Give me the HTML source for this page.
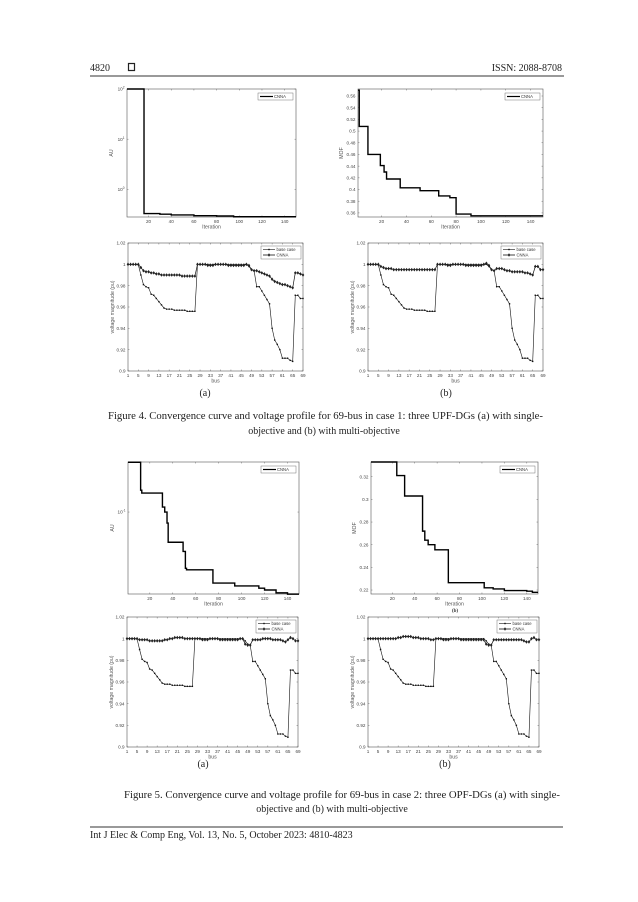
<!DOCTYPE html>
<html><head><meta charset="utf-8">
<style>
html,body{margin:0;padding:0;background:#fff;}
body{width:638px;height:902px;position:relative;overflow:hidden;font-family:"Liberation Serif",serif;}
svg{position:absolute;left:0;top:0;}
</style></head>
<body>
<svg id="page" width="638" height="902" viewBox="0 0 638 902" xmlns="http://www.w3.org/2000/svg">
  <g font-family="Liberation Serif, serif" font-size="10" fill="#222">
    <text x="90" y="71">4820</text>
    <rect x="128.5" y="63.5" width="6" height="7" fill="none" stroke="#222" stroke-width="1.2"/>
    <text x="562" y="71" text-anchor="end">ISSN: 2088-8708</text>
    <line x1="90" y1="76" x2="564" y2="76" stroke="#333" stroke-width="1"/>
  </g>
  <g id="charts"></g>
  <g font-family="Liberation Serif, serif" font-size="10" fill="#222">
    <text x="205" y="396" text-anchor="middle">(a)</text>
    <text x="446" y="396" text-anchor="middle">(b)</text>
    <text x="108" y="419" textLength="435" lengthAdjust="spacingAndGlyphs">Figure 4. Convergence curve and voltage profile for 69-bus in case 1: three UPF-DGs (a) with single-</text>
    <text x="324" y="434" text-anchor="middle">objective and (b) with multi-objective</text>
  </g>
  <g font-family="Liberation Serif, serif" font-size="10" fill="#222">
    <text x="203" y="767" text-anchor="middle">(a)</text>
    <text x="445" y="767" text-anchor="middle">(b)</text>
    <text x="124" y="798" textLength="436" lengthAdjust="spacingAndGlyphs">Figure 5. Convergence curve and voltage profile for 69-bus in case 2: three OPF-DGs (a) with single-</text>
    <text x="332" y="812" text-anchor="middle">objective and (b) with multi-objective</text>
  </g>
  <g font-family="Liberation Serif, serif" font-size="10" fill="#222">
    <line x1="90" y1="827" x2="563" y2="827" stroke="#333" stroke-width="1"/>
    <text x="90" y="838">Int J Elec &amp; Comp Eng, Vol. 13, No. 5, October 2023: 4810-4823</text>
  </g>
</svg>
<script>
// ---- convergence data ----
var f4aIter = [1, 16, 30, 40, 60, 80, 95, 150];
var f4aVal  = [100, 0.33, 0.32, 0.31, 0.30, 0.295, 0.285, 0.285];
var f4bIter = [1, 2, 9, 19, 22, 24, 35, 51, 66, 75, 80, 92, 150];
var f4bVal  = [0.57, 0.508, 0.46, 0.441, 0.43, 0.418, 0.403, 0.398, 0.389, 0.386, 0.358, 0.355, 0.355];
var f5aIter = [1, 12, 13, 31, 33, 35, 36, 49, 51, 52, 75, 94, 115, 120, 130, 140, 150];
var f5aVal  = [0.26, 0.152, 0.144, 0.110, 0.100, 0.081, 0.056, 0.047, 0.034, 0.033, 0.0256, 0.0242, 0.0232, 0.0224, 0.0212, 0.0207, 0.0207];
var f5bIter = [1, 24, 31, 47, 49, 52, 58, 70, 102, 110, 120, 140, 145, 150];
var f5bVal  = [0.333, 0.321, 0.303, 0.272, 0.264, 0.260, 0.2555, 0.2265, 0.222, 0.221, 0.2195, 0.219, 0.218, 0.218];
var convXTicks = [20, 40, 60, 80, 100, 120, 140];
var f4bYTicks = [0.36, 0.38, 0.4, 0.42, 0.44, 0.46, 0.48, 0.5, 0.52, 0.54, 0.56];
var f5bYTicks = [0.22, 0.24, 0.26, 0.28, 0.3, 0.32];
// ---- voltage data ----
var busTicks = [1,5,9,13,17,21,25,29,33,37,41,45,49,53,57,61,65,69];
var voltTicks = [0.9, 0.92, 0.94, 0.96, 0.98, 1, 1.02];
var baseCase = [1.0,1.0,1.0,1.0,0.9997,0.99,0.981,0.979,0.978,0.972,0.971,0.968,0.965,0.962,0.959,0.958,0.958,0.958,0.957,0.957,0.957,0.957,0.957,0.956,0.956,0.956,0.956,
 1.0,1.0,1.0,1.0,1.0,0.9999,0.9999,0.9999,1.0,1.0,0.9999,0.9999,0.9999,0.9999,0.9999,0.9999,0.9999,0.9999,0.9999,1.0,0.998,0.995,0.994,
 0.979,0.979,0.975,0.971,0.967,0.963,0.940,0.929,0.925,0.920,0.912,0.912,0.912,0.910,0.909,0.971,0.971,0.968,0.968];
var cnna4a = [1.0,1.0,1.0,1.0,1.0,0.997,0.994,0.993,0.993,0.992,0.992,0.991,0.991,0.990,0.990,0.990,0.990,0.990,0.990,0.990,0.990,0.989,0.989,0.989,0.989,0.989,0.989,
 1.0,1.0,1.0,1.0,0.999,0.999,0.999,1.0,1.0,1.0,1.0,1.0,0.999,0.999,0.999,0.999,0.999,0.999,0.999,1.0,0.999,0.995,0.994,
 0.994,0.993,0.992,0.991,0.990,0.989,0.986,0.984,0.983,0.982,0.981,0.981,0.980,0.979,0.978,0.992,0.992,0.991,0.990];
var cnna4b = [1.0,1.0,1.0,1.0,1.0,0.998,0.997,0.996,0.996,0.996,0.995,0.995,0.995,0.995,0.995,0.995,0.995,0.995,0.995,0.995,0.995,0.995,0.995,0.995,0.995,0.995,0.995,
 1.0,1.0,1.0,1.0,0.999,0.999,1.0,1.0,1.0,1.0,1.0,0.999,0.999,0.999,0.999,0.999,0.999,0.999,1.0,1.001,0.999,0.995,0.994,
 0.996,0.996,0.996,0.995,0.994,0.994,0.993,0.993,0.993,0.993,0.993,0.992,0.992,0.991,0.990,0.998,0.998,0.995,0.995];
var cnna5a = [1.0,1.0,1.0,1.0,1.0,0.999,0.999,0.999,0.999,0.998,0.998,0.998,0.998,0.998,0.998,0.999,0.999,1.0,1.0,1.001,1.001,1.001,1.001,1.0,1.0,1.0,1.0,
 1.0,1.0,1.0,0.999,0.999,0.999,1.0,1.0,1.0,1.0,0.999,0.999,0.999,0.999,0.999,0.999,0.999,0.999,1.0,1.0,0.995,0.994,0.994,
 0.999,0.999,0.999,0.999,1.0,1.0,1.0,1.0,0.999,0.999,0.999,0.999,0.998,0.997,0.999,1.001,1.0,0.998,0.998];
var cnna5b = [1.0,1.0,1.0,1.0,1.0,1.0,1.0,1.0,1.0,1.0,1.0,1.0,1.001,1.001,1.002,1.002,1.002,1.002,1.001,1.001,1.001,1.0,1.0,1.0,1.0,0.999,0.999,
 1.0,1.0,1.0,0.999,0.999,0.999,1.0,1.0,1.0,1.0,0.999,0.999,0.999,0.999,0.999,0.999,0.999,0.999,0.999,0.999,0.995,0.994,0.994,
 0.999,0.999,0.999,0.999,0.999,0.999,0.999,0.999,0.999,0.999,0.999,0.999,0.998,0.997,0.997,1.0,1.001,0.999,0.999];

var NS = "http://www.w3.org/2000/svg";
var root = document.getElementById('charts');
function mk(tag, attrs, parent){
  var e = document.createElementNS(NS, tag);
  for (var k in attrs) e.setAttribute(k, attrs[k]);
  parent.appendChild(e);
  return e;
}
function makeScale(d0, d1, r0, r1, log){
  if (log){ var a = Math.log10(d0), b = Math.log10(d1);
    return function(v){ return r0 + (Math.log10(v) - a) / (b - a) * (r1 - r0); }; }
  return function(v){ return r0 + (v - d0) / (d1 - d0) * (r1 - r0); };
}
function fmt(v){ var s = String(+v.toFixed(3)); return s; }

function frame(name, c){
  var g = mk('g', {}, root);
  
  
  var box = mk('rect', {x:c.x0, y:c.y0, width:c.x1-c.x0, height:c.y1-c.y0, fill:'#fff', stroke:'#555', 'stroke-width':0.6}, g);
  
  
  var sx = makeScale(c.xmin, c.xmax, c.x0, c.x1, false);
  var sy = makeScale(c.ymin, c.ymax, c.y1, c.y0, c.log);
  var xt = mk('g', {'font-family':'Liberation Sans, sans-serif', 'font-size':'4.6', fill:'#444'}, g);
  
  
  c.xticks.forEach(function(t){
    var x = sx(t);
    mk('line', {x1:x, x2:x, y1:c.y1, y2:c.y1-1.5, stroke:'#555', 'stroke-width':0.4}, xt);
    mk('line', {x1:x, x2:x, y1:c.y0, y2:c.y0+1.5, stroke:'#555', 'stroke-width':0.4}, xt);
    var tl = mk('text', {x:x, y:c.y1+6, 'text-anchor':'middle'}, xt);
    tl.textContent = t;
    
    
  });
  var yt = mk('g', {'font-family':'Liberation Sans, sans-serif', 'font-size':'4.6', fill:'#444'}, g);
  
  
  c.yticks.forEach(function(t){
    var y = sy(t);
    mk('line', {x1:c.x0, x2:c.x0+1.5, y1:y, y2:y, stroke:'#555', 'stroke-width':0.4}, yt);
    mk('line', {x1:c.x1, x2:c.x1-1.5, y1:y, y2:y, stroke:'#555', 'stroke-width':0.4}, yt);
    var tl = mk('text', {x:c.x0-2.5, y:y+1.6, 'text-anchor':'end'}, yt);
    if (c.log){
      var ex = Math.round(Math.log10(t));
      tl.appendChild(document.createTextNode('10'));
      var sp = mk('tspan', {dy:-2, 'font-size':'3.2'}, tl);
      sp.textContent = ex;
    } else tl.textContent = fmt(t);
    
    
  });
  var xl = mk('text', {x:(c.x0+c.x1)/2, y:c.y1+11.5, 'text-anchor':'middle', 'font-family':'Liberation Sans, sans-serif', 'font-size':'5.2', fill:'#555'}, g);
  xl.textContent = c.xlabel;
  
  
  var yx = c.x0 - c.ylabOff, yy = (c.y0+c.y1)/2;
  var yl = mk('text', {x:yx, y:yy, 'text-anchor':'middle', transform:'rotate(-90 '+yx+' '+yy+')', 'font-family':'Liberation Sans, sans-serif', 'font-size':'5.2', fill:'#555'}, g);
  yl.textContent = c.ylabel;
  
  
  return {g:g, sx:sx, sy:sy};
}

function convChart(name, c, iters, vals){
  var f = frame(name, c);
  var d = '';
  for (var i = 0; i < iters.length; i++){
    var x = f.sx(iters[i]), y = f.sy(vals[i]);
    if (i === 0) d += 'M' + x + ' ' + y;
    else d += ' H' + x + ' V' + y;
  }
  d += ' H' + f.sx(c.xmax);
  var p = mk('path', {d:d, fill:'none', stroke:'#000', 'stroke-width':1.4}, f.g);
  
  
  var lg = mk('g', {}, f.g);
  
  
  var lx = c.x1 - 38, ly = c.y0 + 4;
  mk('rect', {x:lx, y:ly, width:35, height:7, fill:'#fff', stroke:'#555', 'stroke-width':0.4}, lg);
  mk('line', {x1:lx+2, x2:lx+15, y1:ly+3.5, y2:ly+3.5, stroke:'#000', 'stroke-width':1.2}, lg);
  var lt = mk('text', {x:lx+16, y:ly+5.2, 'font-family':'Liberation Sans, sans-serif', 'font-size':'4.2', fill:'#333'}, lg);
  lt.textContent = 'CNNA';
  
  
}

function voltChart(name, c, base, cnna){
  var f = frame(name, c);
  function line(arr, w, sname){
    var d = arr.map(function(v, i){ return (i ? 'L' : 'M') + f.sx(i+1) + ' ' + f.sy(v); }).join(' ');
    var p = mk('path', {d:d, fill:'none', stroke:'#111', 'stroke-width':w}, f.g);
    
    
  }
  line(base, 0.6, 'base-case-line');
  var bm = mk('g', {fill:'#111'}, f.g);
  
  
  base.forEach(function(v, i){ mk('rect', {x:f.sx(i+1)-0.7, y:f.sy(v)-0.7, width:1.4, height:1.4}, bm); });
  line(cnna, 0.7, 'cnna-line');
  var cm = mk('g', {fill:'#222'}, f.g);
  
  
  cnna.forEach(function(v, i){
    var x = f.sx(i+1), y = f.sy(v);
    mk('path', {d:'M'+x+' '+(y-1.8)+' L'+(x+1.3)+' '+y+' L'+x+' '+(y+1.8)+' L'+(x-1.3)+' '+y+' Z'}, cm);
  });
  var lg = mk('g', {}, f.g);
  
  
  var lx = c.x1 - 42, ly = c.y0 + 3;
  mk('rect', {x:lx, y:ly, width:40, height:13, fill:'#fff', stroke:'#555', 'stroke-width':0.4}, lg);
  mk('line', {x1:lx+2, x2:lx+14, y1:ly+3.5, y2:ly+3.5, stroke:'#111', 'stroke-width':0.6}, lg);
  mk('rect', {x:lx+7.3, y:ly+2.8, width:1.4, height:1.4, fill:'#111'}, lg);
  mk('line', {x1:lx+2, x2:lx+14, y1:ly+9, y2:ly+9, stroke:'#111', 'stroke-width':0.8}, lg);
  mk('path', {d:'M'+(lx+8)+' '+(ly+7.2)+' l1.3 1.8 l-1.3 1.8 l-1.3 -1.8 Z', fill:'#222'}, lg);
  var t1 = mk('text', {x:lx+15.5, y:ly+5, 'font-family':'Liberation Sans, sans-serif', 'font-size':'4.2', fill:'#333'}, lg);
  t1.textContent = 'base case';
  
  
  var t2 = mk('text', {x:lx+15.5, y:ly+10.5, 'font-family':'Liberation Sans, sans-serif', 'font-size':'4.2', fill:'#333'}, lg);
  t2.textContent = 'CNNA';
  
  
}

convChart('fig4a-convergence-chart', {x0:127,x1:296,y0:89,y1:217,xmin:1,xmax:150,ymin:Math.pow(10,-0.55),ymax:100,log:true,xticks:convXTicks,yticks:[1,10,100],xlabel:'Iteration',ylabel:'AU',ylabOff:14}, f4aIter, f4aVal);
convChart('fig4b-convergence-chart', {x0:358,x1:543,y0:89,y1:217,xmin:1,xmax:150,ymin:0.353,ymax:0.572,log:false,xticks:convXTicks,yticks:f4bYTicks,xlabel:'Iteration',ylabel:'MOF',ylabOff:15}, f4bIter, f4bVal);
voltChart('fig4a-voltage-chart', {x0:128,x1:303,y0:243,y1:371,xmin:1,xmax:69,ymin:0.9,ymax:1.02,xticks:busTicks,yticks:voltTicks,xlabel:'bus',ylabel:'voltage magnitude (pu)',ylabOff:14}, baseCase, cnna4a);
voltChart('fig4b-voltage-chart', {x0:368,x1:543,y0:243,y1:371,xmin:1,xmax:69,ymin:0.9,ymax:1.02,xticks:busTicks,yticks:voltTicks,xlabel:'bus',ylabel:'voltage magnitude (pu)',ylabOff:14}, baseCase, cnna4b);
convChart('fig5a-convergence-chart', {x0:128,x1:299,y0:462,y1:594,xmin:1,xmax:150,ymin:Math.pow(10,-1.683),ymax:Math.pow(10,-0.583),log:true,xticks:convXTicks,yticks:[0.1],xlabel:'Iteration',ylabel:'AU',ylabOff:14}, f5aIter, f5aVal);
convChart('fig5b-convergence-chart', {x0:371,x1:538,y0:462,y1:594,xmin:1,xmax:150,ymin:0.2165,ymax:0.333,log:false,xticks:convXTicks,yticks:f5bYTicks,xlabel:'Iteration',ylabel:'MOF',ylabOff:15}, f5bIter, f5bVal);
voltChart('fig5a-voltage-chart', {x0:127,x1:298,y0:617,y1:747,xmin:1,xmax:69,ymin:0.9,ymax:1.02,xticks:busTicks,yticks:voltTicks,xlabel:'bus',ylabel:'voltage magnitude (pu)',ylabOff:14}, baseCase, cnna5a);
voltChart('fig5b-voltage-chart', {x0:368,x1:539,y0:617,y1:747,xmin:1,xmax:69,ymin:0.9,ymax:1.02,xticks:busTicks,yticks:voltTicks,xlabel:'bus',ylabel:'voltage magnitude (pu)',ylabOff:14}, baseCase, cnna5b);
var bl = mk('text', {x:455, y:612, 'text-anchor':'middle', 'font-family':'Liberation Serif, serif', 'font-size':'5', 'font-weight':'bold', fill:'#333'}, root);
bl.textContent = '(b)';


</script>
</body></html>
